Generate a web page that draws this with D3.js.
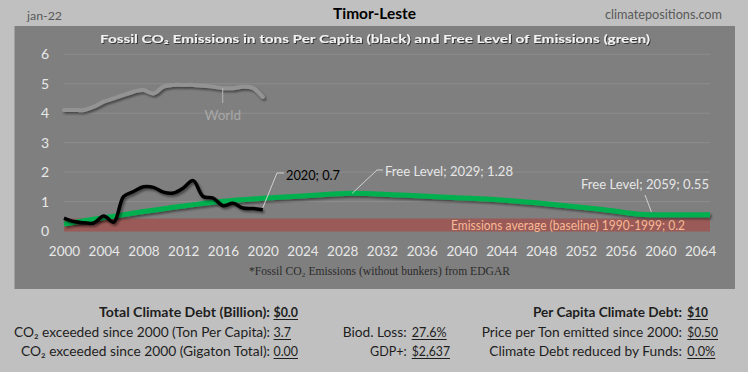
<!DOCTYPE html>
<html>
<head>
<meta charset="utf-8">
<script src="https://d3js.org/d3.v7.min.js"></script>
<style>
  body { margin: 0; background: #c0c0c0; }
  svg { display: block; font-family: Lato, "Open Sans", sans-serif; }
</style>
</head>
<body>
<svg id="chart" width="748" height="372"></svg>
<script>
// Timor-Leste per capita emissions (tons), 2000-2020
var years = [2000, 2001, 2002, 2003, 2004, 2005, 2006, 2007, 2008, 2009, 2010,
             2011, 2012, 2013, 2014, 2015, 2016, 2017, 2018, 2019, 2020];
var perCapita = [0.44, 0.32, 0.28, 0.27, 0.51, 0.30, 1.17, 1.34, 1.50, 1.48, 1.32,
                 1.29, 1.46, 1.71, 1.17, 1.12, 0.86, 0.94, 0.78, 0.76, 0.72];
// world average per capita
var world = [4.11, 4.11, 4.11, 4.22, 4.39, 4.50, 4.62, 4.73, 4.79, 4.67, 4.90,
             4.96, 4.96, 4.96, 4.93, 4.90, 4.85, 4.85, 4.90, 4.86, 4.55];
// free level of emissions (green)
var freeYears = [2000, 2004, 2008, 2012, 2016, 2020, 2024, 2029, 2034, 2039, 2044, 2049, 2054, 2059, 2065];
var freeLevel = [0.24, 0.45, 0.66, 0.85, 1.01, 1.11, 1.19, 1.28, 1.22, 1.14, 1.05, 0.91, 0.74, 0.55, 0.55];
var baseline = 0.2;
var xTickYears = [2000, 2004, 2008, 2012, 2016, 2020, 2024, 2028, 2032, 2036, 2040, 2044, 2048, 2052, 2056, 2060, 2064];
var yTickValues = [0, 1, 2, 3, 4, 5, 6];

var svg = d3.select("#chart");

var defs = svg.append("defs");
defs.append("filter").attr("id", "shadow")
    .attr("x", "-10%").attr("y", "-30%").attr("width", "120%").attr("height", "160%")
  .append("feDropShadow")
    .attr("dx", 1.5).attr("dy", 2).attr("stdDeviation", 1.2)
    .attr("flood-color", "#000").attr("flood-opacity", 0.45);
defs.append("filter").attr("id", "tshadow")
  .append("feDropShadow")
    .attr("dx", 1).attr("dy", 1).attr("stdDeviation", 0.6)
    .attr("flood-color", "#000").attr("flood-opacity", 0.6);

// header
svg.append("text").attr("x", 27).attr("y", 20)
    .attr("font-size", 12).attr("fill", "#595959")
    .attr("textLength", 35).attr("lengthAdjust", "spacingAndGlyphs")
    .text("jan-22");
svg.append("text").attr("x", 333).attr("y", 19)
    .attr("font-size", 15).attr("font-weight", "bold").attr("fill", "#000")
    .attr("textLength", 83).attr("lengthAdjust", "spacingAndGlyphs")
    .text("Timor-Leste");
svg.append("text").attr("x", 605).attr("y", 19)
    .attr("font-size", 13).attr("fill", "#595959")
    .attr("textLength", 117).attr("lengthAdjust", "spacingAndGlyphs")
    .text("climatepositions.com");

// dark panel
svg.append("rect")
    .attr("x", 14.5).attr("y", 26).attr("width", 720.5).attr("height", 263)
    .attr("fill", "#7f7f7f");

svg.append("text").attr("x", 100).attr("y", 42.5)
    .attr("font-size", 11.5).attr("font-weight", "bold").attr("fill", "#f2f2f2")
    .attr("filter", "url(#tshadow)")
    .attr("textLength", 550).attr("lengthAdjust", "spacingAndGlyphs")
    .text("Fossil CO\u2082 Emissions in tons Per Capita (black) and Free Level of Emissions (green)");

var x = d3.scaleLinear().domain([2000, 2065]).range([64, 710]);
var y = d3.scaleLinear().domain([0, 6]).range([231, 54.3]);

// gridlines
svg.append("g").selectAll("line")
  .data(yTickValues.slice(1))
  .enter().append("line")
    .attr("x1", x(2000)).attr("x2", x(2065))
    .attr("y1", function(d) { return y(d); })
    .attr("y2", function(d) { return y(d); })
    .attr("stroke", "#8d8d8d").attr("stroke-width", 1);

var yAxis = d3.axisLeft(y).tickValues(yTickValues).tickFormat(d3.format("d")).tickSize(0).tickPadding(15);
var gy = svg.append("g").attr("transform", "translate(" + x(2000) + ",0)").call(yAxis);
gy.select(".domain").remove();
gy.selectAll("text").attr("font-size", 14).attr("fill", "#e8e8e8")
    .attr("font-family", "Lato, sans-serif");

var xAxis = d3.axisBottom(x).tickValues(xTickYears).tickFormat(d3.format("d")).tickSize(0).tickPadding(15);
var gx = svg.append("g").attr("transform", "translate(0," + y(0) + ")").call(xAxis);
gx.select(".domain").remove();
gx.selectAll("text").attr("font-size", 13.5).attr("fill", "#e8e8e8")
    .attr("font-family", "Lato, sans-serif");

// baseline band (thick line)
svg.append("line")
    .attr("x1", x(2000)).attr("x2", x(2065))
    .attr("y1", y(baseline)).attr("y2", y(baseline))
    .attr("stroke", "#9a5a57").attr("stroke-width", 13);
svg.append("text").attr("x", 451).attr("y", y(baseline) + 4.5)
    .attr("font-size", 12.5).attr("fill", "#f8b995")
    .attr("textLength", 234).attr("lengthAdjust", "spacingAndGlyphs")
    .text("Emissions average (baseline) 1990-1999; 0.2");

var smooth = d3.line().curve(d3.curveCatmullRom.alpha(0.5));
var mono = d3.line().curve(d3.curveMonotoneX);

// world line
svg.append("path")
    .attr("d", smooth(years.map(function(d, i) { return [x(d), y(world[i])]; })))
    .attr("fill", "none").attr("stroke", "#939393").attr("stroke-width", 4)
    .attr("stroke-linecap", "round").attr("filter", "url(#shadow)");

// free level line
svg.append("path")
    .attr("d", mono(freeYears.map(function(d, i) { return [x(d), y(freeLevel[i])]; })))
    .attr("fill", "none").attr("stroke", "#00b050").attr("stroke-width", 5)
    .attr("filter", "url(#shadow)");

// per capita line
svg.append("path")
    .attr("d", smooth(years.map(function(d, i) { return [x(d), y(perCapita[i])]; })))
    .attr("fill", "none").attr("stroke", "#000").attr("stroke-width", 3.5)
    .attr("stroke-linejoin", "round").attr("filter", "url(#shadow)");

// labels with leader lines
function leader(pts) {
  svg.append("path").attr("d", d3.line()(pts))
      .attr("fill", "none").attr("stroke", "#d0d0d0").attr("stroke-width", 1);
}
var lastYear = years[years.length - 1], lastVal = perCapita[perCapita.length - 1];
leader([[x(lastYear), y(lastVal) - 2], [277, 173], [284, 173]]);
svg.append("text").attr("x", 286).attr("y", 180)
    .attr("font-size", 14).attr("fill", "#000")
    .attr("textLength", 54).attr("lengthAdjust", "spacingAndGlyphs")
    .text("2020; 0.7");

leader([[x(2029), y(1.28)], [377, 170], [383, 170]]);
svg.append("text").attr("x", 385).attr("y", 175.5)
    .attr("font-size", 14).attr("fill", "#e6e6e6")
    .attr("textLength", 128).attr("lengthAdjust", "spacingAndGlyphs")
    .text("Free Level; 2029; 1.28");

leader([[x(2059) + 1, y(0.55) - 3], [645, 195]]);
svg.append("text").attr("x", 581).attr("y", 189)
    .attr("font-size", 14).attr("fill", "#e6e6e6")
    .attr("textLength", 128).attr("lengthAdjust", "spacingAndGlyphs")
    .text("Free Level; 2059; 0.55");

svg.append("line").attr("x1", 222.7).attr("x2", 222.7).attr("y1", 88).attr("y2", 103)
    .attr("stroke", "#b5b5b5").attr("stroke-width", 1);
svg.append("text").attr("x", 222.7).attr("y", 120).attr("text-anchor", "middle")
    .attr("font-size", 13.5).attr("fill", "#a8a8a8")
    .text("World");

// footnote
svg.append("text").attr("x", 249).attr("y", 275)
    .attr("font-family", "'Liberation Serif', 'DejaVu Serif', serif")
    .attr("font-size", 11.5).attr("fill", "#2b2b2b")
    .attr("textLength", 261).attr("lengthAdjust", "spacingAndGlyphs")
    .text("*Fossil CO\u2082 Emissions (without bunkers) from EDGAR");

// bottom statistics
var stats = [
  {x0: 99, x1: 270, v0: 273.5, v1: 298, y: 317, label: "Total Climate Debt (Billion):", value: "$0.0", bold: true},
  {x0: 14, x1: 270, v0: 273.5, v1: 291, y: 337, label: "CO\u2082 exceeded since 2000 (Ton Per Capita):", value: "3.7"},
  {x0: 21, x1: 270, v0: 273.5, v1: 298, y: 356, label: "CO\u2082 exceeded since 2000 (Gigaton Total):", value: "0.00"},
  {x0: 342.7, x1: 406.7, v0: 411.7, v1: 446.7, y: 337, label: "Biod. Loss:", value: "27.6%"},
  {x0: 370, x1: 406.7, v0: 411.7, v1: 450, y: 356, label: "GDP+:", value: "$2,637"},
  {x0: 533, x1: 682, v0: 687.3, v1: 708, y: 317, label: "Per Capita Climate Debt:", value: "$10", bold: true},
  {x0: 481.7, x1: 682, v0: 687.3, v1: 718, y: 337, label: "Price per Ton emitted since 2000:", value: "$0.50"},
  {x0: 489.3, x1: 682, v0: 687.3, v1: 715.3, y: 356, label: "Climate Debt reduced by Funds:", value: "0.0%"}
];
var sg = svg.append("g").attr("fill", "#1e1e1e").attr("font-size", 13.5);
stats.forEach(function(s) {
  sg.append("text").attr("x", s.x0).attr("y", s.y)
      .attr("font-weight", s.bold ? "bold" : "normal")
      .attr("textLength", s.x1 - s.x0).attr("lengthAdjust", "spacingAndGlyphs")
      .text(s.label);
  sg.append("text").attr("x", s.v0).attr("y", s.y)
      .attr("font-weight", s.bold ? "bold" : "normal")
      .attr("textLength", s.v1 - s.v0).attr("lengthAdjust", "spacingAndGlyphs")
      .text(s.value);
  sg.append("line").attr("x1", s.v0).attr("x2", s.v1)
      .attr("y1", s.y + 2.5).attr("y2", s.y + 2.5)
      .attr("stroke", "#1e1e1e").attr("stroke-width", 1);
});
</script>
</body>
</html>
